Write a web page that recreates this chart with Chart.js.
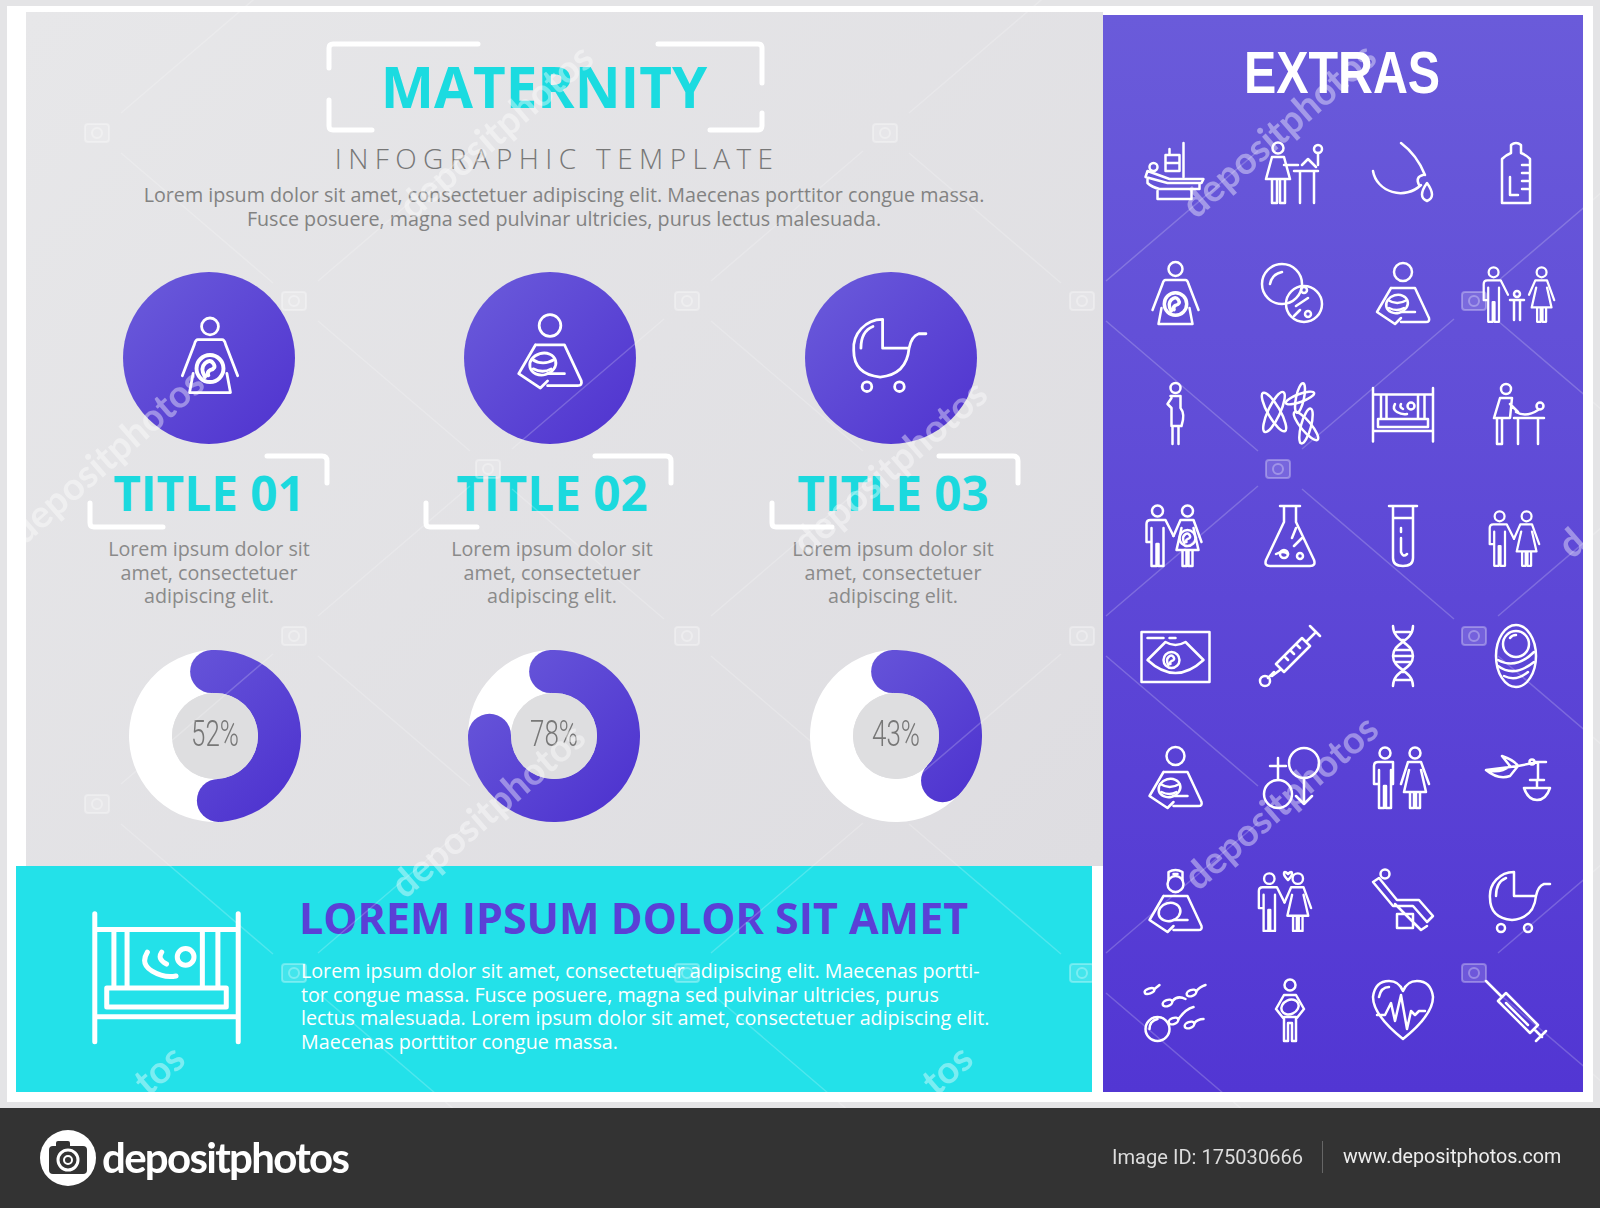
<!DOCTYPE html>
<html>
<head>
<meta charset="utf-8">
<title>Maternity infographic</title>
<script src="https://cdn.jsdelivr.net/npm/chart.js@4"></script>
<style>
  html, body { margin: 0; padding: 0; }
  body { width: 1600px; height: 1208px; position: relative; overflow: hidden; background: #e4e4e6; font-family: "Open Sans", sans-serif; }
  .box { position: absolute; }
  .txt { position: absolute; white-space: nowrap; }
  .center { transform: translateX(-50%); text-align: center; }
  canvas { position: absolute; }
  svg { position: absolute; overflow: visible; }
  .ln { fill: none; stroke: #fff; stroke-linecap: round; stroke-linejoin: round; }
</style>
</head>
<body>
<div class="box" style="left:7px;top:6px;width:1586px;height:1096px;background:#fff"></div>
<div class="box" style="left:26px;top:12px;width:1077px;height:854px;background:linear-gradient(135deg,#e7e7e9,#dedde1)"></div>
<div class="box" style="left:1103px;top:15px;width:480px;height:1077px;background:linear-gradient(180deg,#6a5bda,#5236d3)"></div>
<div class="box" style="left:16px;top:866px;width:1076px;height:226px;background:#23e1e9"></div>

<svg id="frames" style="left:0;top:0" width="1600" height="1208"></svg>

<div class="txt center" style="left:544px;top:49px;font-size:56.5px;font-weight:700;color:#1bdbe0;line-height:76px">MATERNITY</div>
<div class="txt center" style="left:557px;top:139px;font-size:28px;font-weight:300;letter-spacing:6.4px;color:#777;line-height:38px">INFOGRAPHIC TEMPLATE</div>
<div class="txt center" style="left:564px;top:183px;font-size:19.7px;color:#828282;line-height:23.5px">Lorem ipsum dolor sit amet, consectetuer adipiscing elit. Maecenas porttitor congue massa.<br>Fusce posuere, magna sed pulvinar ultricies, purus lectus malesuada.</div>

<div id="columns"></div>

<div class="txt" style="left:299px;top:889px;font-size:43px;font-weight:700;color:#5b3fd6;line-height:58px">LOREM IPSUM DOLOR SIT AMET</div>
<div class="txt" style="left:301px;top:959px;font-size:19.7px;color:#fff;line-height:23.5px">Lorem ipsum dolor sit amet, consectetuer adipiscing elit. Maecenas portti-<br>tor congue massa. Fusce posuere, magna sed pulvinar ultricies, purus<br>lectus malesuada. Lorem ipsum dolor sit amet, consectetuer adipiscing elit.<br>Maecenas porttitor congue massa.</div>

<div class="txt center" style="left:1342px;top:35px;transform:translateX(-50%) scaleX(0.82);font-family:'Liberation Sans',sans-serif;font-size:59px;font-weight:700;color:#fff;line-height:76px">EXTRAS</div>

<svg id="icons" style="left:0;top:0" width="1600" height="1208"></svg>
<svg id="marks" style="left:0;top:0" width="1600" height="1108"></svg>

<!-- footer sits above the watermark so the marks stop at its edge -->
<div class="box" style="left:0;top:1108px;width:1600px;height:100px;background:#333"></div>
<svg id="logo" style="left:0;top:0" width="1600" height="1208"></svg>
<div class="txt" style="left:102px;top:1128px;font-family:Lato,sans-serif;font-size:42px;font-weight:700;letter-spacing:-1.7px;color:#fff;line-height:58px">depositphotos</div>
<div class="txt" style="left:1112px;top:1144px;font-family:Roboto,sans-serif;font-size:20.1px;color:#ddd;line-height:26px">Image ID: 175030666</div>
<div class="box" style="left:1322px;top:1141px;width:1px;height:32px;background:#666"></div>
<div class="txt" style="left:1343px;top:1144px;font-family:Roboto,sans-serif;font-size:19.7px;color:#eee;line-height:26px">www.depositphotos.com</div>

<script>
// chart data
const titles = ['TITLE 01', 'TITLE 02', 'TITLE 03']
const percentLabels = ['52%', '78%', '43%']
const arcShares = [50, 76, 38]

const circleX = [209, 550, 891]
const titleX = [209, 552, 893]
const donutX = [215, 554, 896]
const donutY = 735.5
const donutSize = 172

const columns = document.getElementById('columns')

function purpleGradient(ctx, size) {
  const g = ctx.createLinearGradient(0, 0, size, size)
  g.addColorStop(0, '#6b5cdb')
  g.addColorStop(1, '#4b2fce')
  return g
}

// round ends and the number in the hole
const ringExtras = {
  id: 'ringExtras',
  afterDatasetsDraw(chart, args, opts) {
    const ctx = chart.ctx
    const arc = chart.getDatasetMeta(0).data[0]
    const { x, y, startAngle, endAngle, innerRadius, outerRadius } = arc.getProps(
      ['x', 'y', 'startAngle', 'endAngle', 'innerRadius', 'outerRadius'],
      true
    )
    const mid = (innerRadius + outerRadius) / 2
    const capR = (outerRadius - innerRadius) / 2
    ctx.save()
    ctx.fillStyle = purpleGradient(ctx, donutSize)
    ;[startAngle, endAngle].forEach((a) => {
      ctx.beginPath()
      ctx.arc(x + Math.cos(a) * mid, y + Math.sin(a) * mid, capR, 0, Math.PI * 2)
      ctx.fill()
    })
    ctx.fillStyle = '#dedee0'
    ctx.beginPath()
    ctx.arc(x, y, innerRadius, 0, Math.PI * 2)
    ctx.fill()
    ctx.translate(x, y)
    ctx.scale(0.7, 1)
    ctx.fillStyle = '#777'
    ctx.font = '300 37px Roboto'
    ctx.textAlign = 'center'
    ctx.textBaseline = 'middle'
    ctx.fillText(opts.label, 0, 1)
    ctx.restore()
  }
}

titles.forEach((title, i) => {
  columns.insertAdjacentHTML(
    'beforeend',
    `<div class="box" style="left:${circleX[i] - 86}px;top:272px;width:172px;height:172px;border-radius:50%;background:linear-gradient(135deg,#6b5cdb,#4f32cf)"></div>
     <div class="txt center" style="left:${titleX[i]}px;top:459px;font-size:47.7px;font-weight:700;color:#1bd9de;line-height:68px">${title}</div>
     <div class="txt center" style="left:${titleX[i]}px;top:537px;font-size:19.7px;color:#8a8a8a;line-height:23.5px">Lorem ipsum dolor sit<br>amet, consectetuer<br>adipiscing elit.</div>`
  )
  const canvas = document.createElement('canvas')
  canvas.style.left = donutX[i] - donutSize / 2 + 'px'
  canvas.style.top = donutY - donutSize / 2 + 'px'
  canvas.width = donutSize
  canvas.height = donutSize
  columns.appendChild(canvas)
  new Chart(canvas.getContext('2d'), {
    type: 'doughnut',
    data: {
      labels: [title, ''],
      datasets: [
        {
          data: [arcShares[i], 100 - arcShares[i]],
          backgroundColor: [purpleGradient(canvas.getContext('2d'), donutSize), '#ffffff'],
          borderWidth: 0
        }
      ]
    },
    options: {
      responsive: false,
      animation: false,
      cutout: '50%',
      rotation: -3,
      events: [],
      plugins: {
        legend: { display: false },
        tooltip: { enabled: false },
        ringExtras: { label: percentLabels[i] }
      }
    },
    plugins: [ringExtras]
  })
})

// white corner brackets
const frames = [
  'M478 44H333q-4 0-4 4V68', 'M329 100V126q0 4 4 4H372', 'M658 44H758q4 0 4 4V83', 'M762 113V126q0 4-4 4H710',
  'M267 456H322q5 0 5 5V483', 'M90 503V523q0 4 4 4H163', 'M595 456H666q5 0 5 5V483', 'M426 503V523q0 4 4 4H477',
  'M939 456H1013q5 0 5 5V483', 'M772 503V523q0 4 4 4H832'
]
document.getElementById('frames').innerHTML = frames
  .map((d) => `<path class="ln" stroke-width="5" d="${d}"/>`)
  .join('')

// line icons, 64 x 64 box
const c = (x, y, r) => `<circle cx="${x}" cy="${y}" r="${r}"/>`
const e = (x, y, rx, ry, a) => `<ellipse cx="${x}" cy="${y}" rx="${rx}" ry="${ry}" transform="rotate(${a} ${x} ${y})"/>`
const p = (d) => `<path d="${d}"/>`
const at = (x, y, s, inner) => `<g transform="translate(${x} ${y}) scale(${s})">${inner}</g>`
const fetus = c(0, 0, 8) + p('M-3 5q-3-5 0-8q3-3 5 0q2 3-2 4q-2 1-1 3')
const man = c(14, 7, 5.5) + p('M3 38V20Q3 16 7 16H22L30 32M3 38H8M8 24V62H13V40H15V62H20V24')
const woman = c(44, 7, 5.5) + p('M30 32L37 16H50L58 38M38 24L33 46H55L50 24M39 46V62H43V46M45 46V62H49V46')
const couple = man + woman
const apart = man.replace('L30 32', 'V38H20') + woman.replace('M30 32L37 16', 'M30 38L37 16')
const belly = c(32, 7, 7) + p('M22 18H42Q44 18 45 22L55 48M22 18Q20 18 19 22L9 48M15 62H49L46 46M15 62L18 46') + at(32, 42, 1.4, fetus)
const motherArms = p('M20 26H44L58 56Q59 60 55 60H30M20 26L6 50L24 62L30 56M30 50H44') + e(26, 42, 11, 9, -15) + p('M17 38Q26 44 36 38M18 46Q26 50 33 46')
const feeding = c(32, 10, 9) + motherArms
const crib = p('M2 6V59.5M62 6V59.5M2 12.5H62M2 49H62M10 12.5V37M15.5 12.5V37M47 12.5V37M53.5 12.5V37M7 37H57V45H7ZM24 22q-3 5 2 8q5 3 10 2M30 22q-2 3 2 5') + c(40, 24, 3.5)
const stroller = p('M30 4A24 24 0 0 0 6 30Q6 50 28 52Q50 50 52 28H30V4M52 28Q54 18 60 16H66M12 28Q12 14 22 10') + c(17, 60, 4) + c(44, 60, 4)
const ultrasound = p('M-2 8H66V58H-2ZM4 14H20M26 14H32M4 36L22 18Q32 24 42 18L60 36Q32 62 4 36Z') + at(28, 36, 1, fetus)
const syringe = p('M18 40L44 14L52 22L26 48ZM22 46L14 52M10 54L16 48M48 18L58 8M52 2L62 12M26 32L30 36M32 26L36 30M38 20L42 24') + c(7, 57, 5)
const icons = [
  p('M40 2V36M22 14H36V30H22ZM26 8V14M22 22H36M2 36L24 42H58L60 38H26L4 30ZM4 38V42Q8 46 16 48H56V42M14 50V58H48V48') + c(10, 26, 4),
  c(20, 7, 5.5) + p('M14 16H26L32 38H8ZM14 16L8 38M26 24H40M14 38V62H19V38M22 38V62H27V38M36 30H60M42 30V62M56 30V62M44 24L50 18L58 26') + c(60, 8, 4) + p('M60 12V24'),
  p('M30 2Q46 14 54 34M52 34Q44 36 48 44M2 30A28 26 0 0 0 50 44M56 42Q66 56 56 60Q46 56 56 42Z'),
  p('M18 62H46V18Q42 14 37 12V4Q32 0 27 4V12Q22 14 18 18ZM38 24H44M38 32H44M38 40H44M38 48H44M26 36V54H34'),
  belly,
  c(24, 22, 20) + c(46, 42, 18) + p('M12 22Q14 12 24 10M38 44l12-8M36 54l6-6') + c(46, 28, 3) + c(50, 52, 3),
  feeding,
  at(-3, 4, 0.9, man) + at(18, 4, 0.9, woman) + c(33, 32, 3) + p('M26 38L33 38L40 38M30 38V58M36 38V58'),
  c(32, 6, 5) + p('M27 14H37V26Q42 32 38 44H28V26L24 22L28 16M29 44V62M35 44V62'),
  e(16, 30, 6, 22, -30) + e(16, 30, 6, 22, 25) + e(42, 16, 4, 15, 12) + e(42, 16, 4, 15, 70) + e(48, 44, 5, 18, -40) + e(48, 44, 5, 18, 15),
  crib,
  c(22, 7, 5) + p('M16 16H28L26 36L10 36ZM16 16L10 36M13 36V62H18V36M26 22L34 30M30 36H60M34 36V62M54 36V62M32 30q10 6 22-2') + c(56, 24, 3.5),
  couple + at(44, 34, 1, fetus),
  p('M22 2H42M26 2V18L8 56Q6 62 12 62H52Q58 62 56 56L38 18V2M18 50q8-4 12 0M38 24l-4 10M44 34l-8 8') + c(26, 50, 4) + c(42, 52, 3),
  p('M18 2H46M22 2V54Q22 62 32 62Q42 62 42 54V2M22 14H42M30 24V28M30 34V48Q32 54 36 50'),
  at(3, 6, 0.9, couple),
  ultrasound,
  syringe,
  p('M22 2C22 18 42 18 42 32C42 46 22 46 22 62M42 2C42 18 22 18 22 32C22 46 42 46 42 62M25 8H39M30 16H34M24 26H40M22 32H42M24 38H40M30 48H34M25 56H39'),
  e(32, 32, 20, 31, 0) + c(32, 20, 13) + p('M14 36Q32 46 50 28M14 42Q30 54 50 38M20 52Q32 58 44 48M26 14Q28 11 32 11'),
  feeding,
  c(20, 48, 14) + c(46, 17, 15) + p('M20 34V12M12 20H28M46 32V58M38 50L46 58L54 50'),
  apart,
  p('M2 24Q16 28 26 20L18 10Q30 14 34 20L54 16M34 20L26 30Q14 34 2 24ZM52 16H62M54 16V34M46 34H60M40 42H66Q62 54 53 54Q44 54 40 42ZM53 34V42') + c(48, 16, 2.5),
  c(32, 16, 8) + p('M25 12V4Q32 0 39 4V12M30 6H34') + at(0, 2, 1, p('M20 26H44L58 56Q59 60 55 60H30M20 26L6 50L24 62L30 56M30 50H44') + e(26, 42, 11, 9, -15)),
  at(-2, 4, 0.95, couple) + p('M30 6Q26 2 26 6Q26 8 30 12Q34 8 34 6Q34 2 30 6Z'),
  c(14, 6, 4.5) + p('M2 14L8 10L26 32H48L62 48L56 54L42 38H22ZM24 36L50 62L56 58M26 46H42V60H26Z'),
  stroller,
  c(14, 50, 12) + p('M6 50Q6 42 14 40') + e(30, 42, 5, 3, -20) + p('M35 40Q42 30 50 28') + e(6, 12, 5, 2.5, -20) + p('M11 10L16 6') + e(24, 24, 5, 3, -20) + p('M29 22Q34 16 42 20') + e(48, 14, 5, 3, -20) + p('M53 12Q56 8 62 6') + e(46, 46, 5, 3, -20) + p('M51 44Q54 40 60 40'),
  c(32, 6, 5.5) + p('M26 16H38L46 30L38 40V62H34V44H30V62H26V40L18 30ZM26 38H38') + e(32, 28, 9, 7, -25),
  p('M32 60Q2 36 2 18Q4 2 18 2Q28 2 32 12Q36 2 46 2Q60 2 62 18Q62 36 32 60ZM6 36H14L20 24L24 42L30 16L36 50L40 32L44 36L48 32H54M8 18Q10 8 18 8'),
  p('M2 2L18 18M14 22L22 14L54 46L46 54ZM22 24L44 46M50 50L58 58M52 62L62 52')
]
const iconX = [1175.5, 1290, 1403, 1516]
const iconY = [173, 294, 414, 536, 656, 778, 900, 1011]
let iconHtml = ''
const drawIcon = (x, y, size, inner, sw) => {
  const s = size / 64
  iconHtml += `<g class="ln" stroke-width="${sw / s}" transform="translate(${x - size / 2} ${y - size / 2}) scale(${s})">${inner}</g>`
}
iconY.forEach((y, r) => {
  iconX.forEach((x, k) => drawIcon(x, y, 64, icons[r * 4 + k], 2.5))
})
drawIcon(210, 356.5, 77, belly, 2.8)
drawIcon(550, 352, 77, feeding, 2.8)
drawIcon(885, 353, 77, stroller, 2.8)
drawIcon(166.5, 976, 153, crib, 5)
document.getElementById('icons').innerHTML = iconHtml

// stock photo watermark
const cameraSpots = [[97, 133], [885, 133], [294, 301], [687, 301], [1082, 301], [1474, 301], [1278, 469], [488, 469], [294, 636], [687, 636], [1082, 636], [1474, 636], [97, 804], [885, 804], [294, 973], [687, 973], [1082, 973], [1474, 973]]
const wordSpots = [[413, 221, 'depositphotos'], [1196, 220, 'depositphotos'], [24, 546, 'depositphotos'], [807, 557, 'depositphotos'], [405, 900, 'depositphotos'], [1198, 892, 'depositphotos'], [148, 1097, 'tos'], [936, 1097, 'tos'], [1572, 560, 'd']]
let markHtml = ''
cameraSpots.forEach(([x, y]) => {
  // faint lattice running through the camera marks
  markHtml += `<path d="M${x + 24} ${y + 20}L${x + 176} ${y + 150}M${x + 24} ${y - 20}L${x + 176} ${y - 150}" stroke="#fff" stroke-opacity="0.2" stroke-width="1.5" fill="none"/>`
  markHtml += `<g fill="none" stroke="#fff" stroke-opacity="0.3" stroke-width="2"><rect x="${x - 12}" y="${y - 9}" width="24" height="18" rx="3" fill="#fff" fill-opacity="0.15"/><circle cx="${x}" cy="${y}" r="5"/></g>`
})
wordSpots.forEach(([x, y, word]) => {
  markHtml += `<text transform="translate(${x} ${y}) rotate(-41)" font-family="Lato, sans-serif" font-weight="700" font-size="38" fill="#fff" fill-opacity="0.4">${word}</text>`
})
document.getElementById('marks').innerHTML = markHtml

// footer logo
document.getElementById('logo').innerHTML =
  '<circle cx="68" cy="1158" r="28" fill="#fff"/>' +
  '<rect x="49" y="1146" width="38" height="28" rx="4" fill="#333"/>' +
  '<rect x="56" y="1141" width="14" height="7" rx="2" fill="#333"/>' +
  '<circle cx="68" cy="1160" r="10" fill="none" stroke="#fff" stroke-width="3"/>' +
  '<circle cx="68" cy="1160" r="4" fill="none" stroke="#fff" stroke-width="2"/>'
</script>
</body>
</html>
